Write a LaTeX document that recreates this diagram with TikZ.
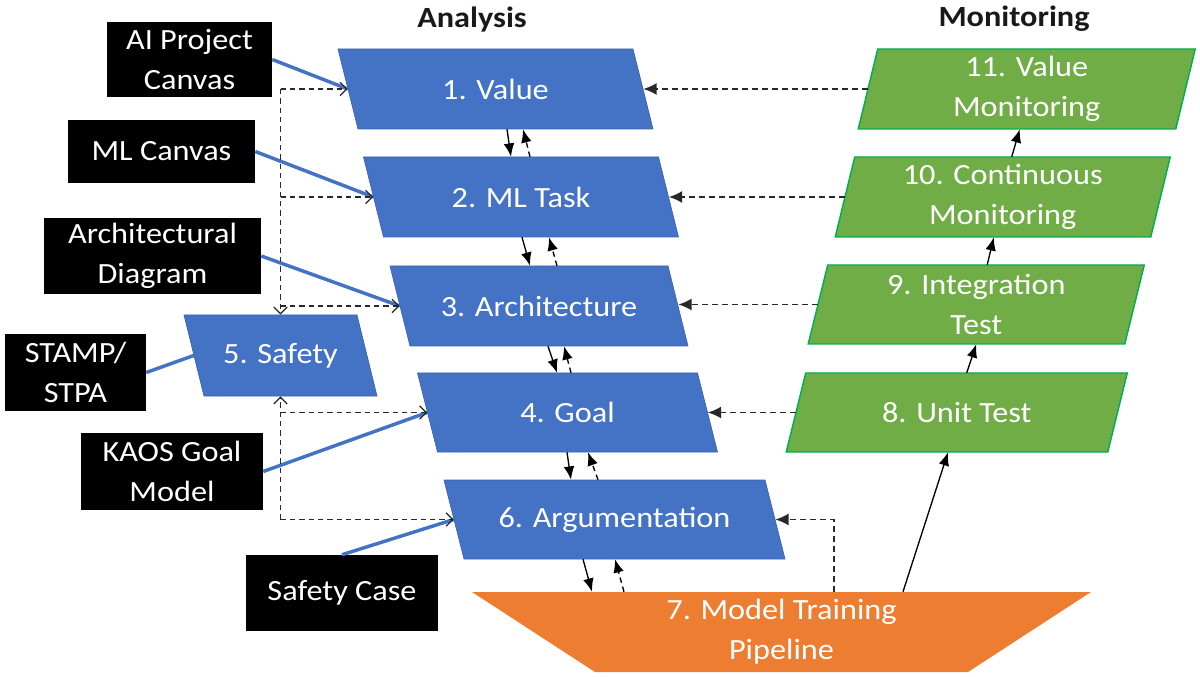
\documentclass[tikz,border=0pt]{standalone}
\usepackage{fontspec}
\setmainfont{Carlito}[FakeStretch=1.1]
\usetikzlibrary{arrows.meta,calc}
\definecolor{bluef}{HTML}{4472C4}
\definecolor{blued}{HTML}{3A62AD}
\definecolor{greenf}{HTML}{70AD47}
\definecolor{greend}{HTML}{00B050}
\definecolor{orangef}{HTML}{ED7D31}
\definecolor{dashc}{HTML}{282828}
\newcommand{\pgbox}[8]{%
  \path[#7] ({#2-#4/2-(#6)/2},{#3-#5/2}) -- ({#2+#4/2-(#6)/2},{#3-#5/2}) -- ({#2+#4/2+(#6)/2},{#3+#5/2}) -- ({#2-#4/2+(#6)/2},{#3+#5/2}) -- cycle;
  \node[boxtext, minimum width={#4*0.75pt}, minimum height={#5*0.75pt}] (#1) at (#2,#3) {#8};}
\tikzset{
  boxtext/.style={inner sep=0pt, text=white, align=center, font=\fontsize{22}{30}\selectfont},
  bluebox/.style={fill=bluef, draw=blued, line width=0.5pt},
  greenbox/.style={fill=greenf, draw=greend, line width=1.1pt},
  blk/.style={fill=black, text=white, inner sep=0pt, align=center, font=\fontsize{22}{30}\selectfont},
  title/.style={font=\fontsize{22}{26}\selectfont\bfseries, anchor=base, text=black!90},
  bline/.style={draw=bluef, line width=2.6pt},
  dleft/.style={draw=dashc, line width=1pt, dash pattern=on 4pt off 3pt, -{Straight Barb[length=5pt,width=10pt,line width=1pt]}},
  dright/.style={draw=dashc, line width=1.3pt, dash pattern=on 4.5pt off 3pt, -{Latex[length=10pt,width=9pt]}},
  solidarr/.style={draw=black, line width=1pt, -{Latex[length=10pt,width=8pt]}},
  dasharr/.style={solidarr, dash pattern=on 4pt off 3pt},
}
\begin{document}
\begin{tikzpicture}[x=0.75pt, y=-0.75pt]
\useasboundingbox (0,0) rectangle (1200,677);

% titles
\node[title] (tana) at (472,28) {Analysis};
\node[title] (tmon) at (1014,27) {Monitoring};

% blue boxes
\pgbox{v1}{495.5}{89}{295}{80}{20}{bluebox}{1. Value}
\pgbox{v2}{521}{197}{295}{80}{20}{bluebox}{2. ML Task}
\pgbox{v3}{539}{306}{278}{80}{20}{bluebox}{3. Architecture}
\pgbox{v4}{567.5}{412.5}{280}{79}{20}{bluebox}{4. Goal}
\pgbox{v6}{614.5}{519.5}{321}{79}{20}{bluebox}{6. Argumentation}
\pgbox{v5}{280.5}{355.5}{173}{81}{20}{bluebox}{5. Safety}

% green boxes
\pgbox{g11}{1026.75}{89}{317.5}{80}{-19.5}{greenbox}{11. Value\\Monitoring}
\pgbox{g10}{1002.75}{197}{315.5}{80}{-19.5}{greenbox}{10. Continuous\\Monitoring}
\pgbox{g9}{976.25}{304.5}{316.5}{79}{-19.5}{greenbox}{9. Integration\\Test}
\pgbox{g8}{956.75}{412.5}{321.5}{79}{-19.5}{greenbox}{8. Unit Test}

% orange trapezoid
\fill[orangef] (472,592) -- (1091,592) -- (968,672) -- (595,672) -- cycle;
\node[boxtext, minimum width={619*0.75pt}, minimum height={80*0.75pt}] (mtp) at (781.5,632) {7. Model Training\\Pipeline};

% black boxes
\node[blk, minimum width={165*0.75pt}, minimum height={75*0.75pt}] (aipc) at (189.5,59.5) {AI Project\\Canvas};
\node[blk, minimum width={187*0.75pt}, minimum height={63*0.75pt}] (mlc) at (161.5,151.5) {ML Canvas};
\node[blk, minimum width={217*0.75pt}, minimum height={76*0.75pt}] (archd) at (152.5,256) {Architectural\\Diagram};
\node[blk, minimum width={141*0.75pt}, minimum height={77*0.75pt}] (stamp) at (75.5,372.5) {STAMP/\\STPA};
\node[blk, minimum width={182*0.75pt}, minimum height={77*0.75pt}] (kaos) at (172,471.5) {KAOS Goal\\Model};
\node[blk, minimum width={192*0.75pt}, minimum height={76*0.75pt}] (sc) at (342,593) {Safety Case};

% blue lines
\draw[bline] (aipc.east) -- (v1.west);
\draw[bline] (mlc.east) -- (v2.west);
\draw[bline] (archd.east) -- (v3.west);
\draw[bline] (stamp.east) -- (v5.west);
\draw[bline] (kaos.east) -- (v4.west);
\draw[bline] (sc.north) -- (v6.west);

% left dashed connectors
\draw[dleft] (v5.north |- v1.west) -- (v1.west);
\draw[dleft] (v5.north |- v2.west) -- (v2.west);
\draw[dleft] (v5.north |- v3.west) -- (v3.west);
\draw[dleft] (v5.north |- v1.west) -- (v5.north);
\draw[dleft] (v5.south |- v4.west) -- (v4.west);
\draw[dleft] (v5.south |- v6.west) -- (v6.west);
\draw[dleft] (v5.south |- v6.west) -- (v5.south);

% between blue boxes
\draw[solidarr] ($(v1.south)+(11.5,0)$) -- ($(v2.north)+(-10,0)$);
\draw[dasharr] ($(v2.north)+(9,0)$) -- ($(v1.south)+(27.5,0)$);
\draw[solidarr] ($(v2.south)+(1,0)$) -- ($(v3.north)+(-9,0)$);
\draw[dasharr] ($(v3.north)+(18,0)$) -- ($(v2.south)+(28,0)$);
\draw[solidarr] ($(v3.south)+(9,0)$) -- ($(v4.north)+(-10.5,0)$);
\draw[dasharr] ($(v4.north)+(3.5,0)$) -- ($(v3.south)+(25,0)$);
\draw[solidarr] ($(v4.south)+(-0.5,0)$) -- ($(v6.north)+(-43.5,0)$);
\draw[dasharr] ($(v6.north)+(-16.5,0)$) -- ($(v4.south)+(20.5,0)$);
\draw[solidarr] ($(v6.south)+(-31.5,0)$) -- ($(mtp.north)+(-189.5,0)$);
\draw[dasharr] ($(mtp.north)+(-157.5,0)$) -- ($(v6.south)+(0.5,0)$);

% right dashed connectors
\draw[dright] (g11.west) -- (v1.east);
\draw[dright] (g10.west) -- (v2.east);
\draw[dright] (g9.west) -- (g9.west -| v3.east);
\draw[dright] (g8.west) -- (v4.east);
\draw[dright] ($(mtp.north)+(52.5,0)$) |- (v6.east);

% monitoring chain
\draw[solidarr] ($(mtp.north)+(121.5,0)$) -- ($(g8.south)+(-8.75,0)$);
\draw[solidarr] ($(g8.north)+(10,0)$) -- ($(g9.south)+(0,0)$);
\draw[solidarr] ($(g9.north)+(11,0)$) -- ($(g10.south)+(-9,0)$);
\draw[solidarr] ($(g10.north)+(9,0)$) -- ($(g11.south)+(-7,0)$);
\end{tikzpicture}
\end{document}
